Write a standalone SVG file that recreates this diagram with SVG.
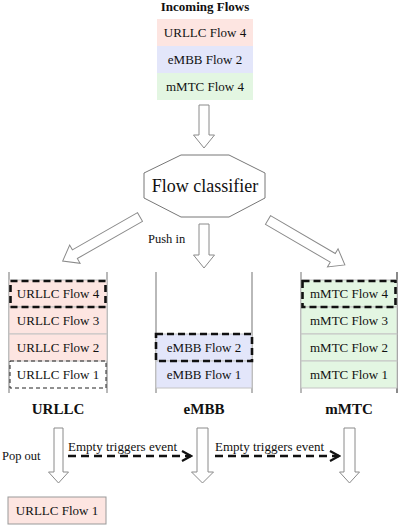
<svg xmlns="http://www.w3.org/2000/svg" width="400" height="526" viewBox="0 0 400 526" font-family="'Liberation Serif', 'Times New Roman', serif">
<defs>
<style>
text{fill:#111}
.t{font-size:13px;text-anchor:middle}
.b{font-size:15px;font-weight:bold;text-anchor:middle}
.hollow{fill:#fff;stroke:#8a8a8a;stroke-width:1}
.qline{stroke:#8a8a8a;stroke-width:1.2}
.pink{fill:#fde5e1}
.blue{fill:#e3e6fa}
.green{fill:#e3f6e2}
.cell{stroke:#c4c4c4;stroke-width:1}
.thick{fill:none;stroke:#111;stroke-width:2.6;stroke-dasharray:7 4}
.thin{fill:none;stroke:#222;stroke-width:1;stroke-dasharray:4 3}
.dash{stroke:#111;stroke-width:2.6;stroke-dasharray:8 5;fill:none}
</style>
<path id="diag" d="M0,-5 H75 V-10.5 L89,0 L75,10.5 V5 H0 Z"/>
<marker id="chev" viewBox="0 0 12 12" refX="10" refY="6" markerWidth="12" markerHeight="12" markerUnits="userSpaceOnUse" orient="auto">
<path d="M1,1 L10,6 L1,11" fill="none" stroke="#111" stroke-width="2.2"/>
</marker>
</defs>

<g id="incoming">
<text x="205" y="11" style="font-size:13px;font-weight:bold;text-anchor:middle">Incoming Flows</text>
<rect x="157" y="19" width="96" height="27" class="pink"/>
<text x="205" y="37" class="t">URLLC Flow 4</text>
<rect x="157" y="46" width="96" height="27" class="blue"/>
<text x="205" y="64" class="t">eMBB Flow 2</text>
<rect x="157" y="73" width="96" height="27" class="green"/>
<text x="205" y="91" class="t">mMTC Flow 4</text>
</g>

<g id="classifier">
<polygon points="181,155 229,155 265,173 265,198 229,217 181,217 144,198 144,173" fill="#fff" stroke="#777" stroke-width="1"/>
<text x="205" y="192" style="font-size:18px;text-anchor:middle">Flow classifier</text>
</g>

<g id="urllc">
<line x1="9" y1="272" x2="9" y2="393" class="qline"/>
<line x1="107" y1="272" x2="107" y2="393" class="qline"/>
<rect x="9" y="280" width="98" height="27" class="pink cell"/>
<rect x="9" y="307" width="98" height="27" class="pink cell"/>
<rect x="9" y="334" width="98" height="27" class="pink cell"/>
<rect x="10.5" y="281" width="95" height="26" class="thick"/>
<rect x="10" y="361" width="96" height="27" class="thin"/>
<text x="58" y="298" class="t">URLLC Flow 4</text>
<text x="58" y="325" class="t">URLLC Flow 3</text>
<text x="58" y="352" class="t">URLLC Flow 2</text>
<text x="58" y="379" class="t">URLLC Flow 1</text>
<text x="58" y="414" class="b">URLLC</text>
</g>

<g id="embb">
<line x1="156" y1="272" x2="156" y2="393" class="qline"/>
<line x1="252" y1="272" x2="252" y2="393" class="qline"/>
<rect x="156" y="334" width="96" height="27" class="blue cell"/>
<rect x="156" y="361" width="96" height="27" class="blue cell"/>
<rect x="156" y="334" width="96" height="27" class="thick"/>
<text x="204" y="352" class="t">eMBB Flow 2</text>
<text x="204" y="379" class="t">eMBB Flow 1</text>
<text x="204" y="414" class="b">eMBB</text>
</g>

<g id="mmtc">
<line x1="301" y1="272" x2="301" y2="393" class="qline"/>
<line x1="397" y1="272" x2="397" y2="393" class="qline" style="stroke-width:2"/>
<rect x="301" y="280" width="96" height="27" class="green cell"/>
<rect x="301" y="307" width="96" height="27" class="green cell"/>
<rect x="301" y="334" width="96" height="27" class="green cell"/>
<rect x="301" y="361" width="96" height="27" class="green cell"/>
<rect x="302.5" y="281" width="93" height="26" class="thick"/>
<text x="349" y="298" class="t">mMTC Flow 4</text>
<text x="349" y="325" class="t">mMTC Flow 3</text>
<text x="349" y="352" class="t">mMTC Flow 2</text>
<text x="349" y="379" class="t">mMTC Flow 1</text>
<text x="349" y="414" class="b">mMTC</text>
</g>

<g id="output">
<rect x="8" y="497" width="98" height="27" class="pink" stroke="#999" stroke-width="1"/>
<text x="57" y="515" class="t">URLLC Flow 1</text>
</g>

<g id="connectors">
<path class="hollow" d="M199,105 H209 V135 H214.5 L204,148 L193.5,135 H199 Z"/>
<path class="hollow" d="M199,224 H209 V255 H214.5 L204,268 L193.5,255 H199 Z"/>
<text x="148" y="243" style="font-size:12.5px">Push in</text>
<use href="#diag" class="hollow" transform="translate(140,217) rotate(150.3)"/>
<use href="#diag" class="hollow" transform="translate(268,220) rotate(30.3)"/>
<path class="hollow" d="M54,428 H63 V472 H68.5 L58.5,483 L48.5,472 H54 Z"/>
<path class="hollow" d="M197,428 H208 V472 H213.5 L202.5,483 L191.5,472 H197 Z"/>
<path class="hollow" d="M344,428 H355 V472 H359.5 L349.5,483 L339.5,472 H344 Z"/>
<text x="2" y="460" style="font-size:12.5px">Pop out</text>
<text x="68" y="451" style="font-size:13px">Empty triggers event</text>
<line x1="68" y1="456" x2="191" y2="456" class="dash" marker-end="url(#chev)"/>
<text x="215" y="451" style="font-size:13px">Empty triggers event</text>
<line x1="215" y1="456" x2="339" y2="456" class="dash" marker-end="url(#chev)"/>
</g>
</svg>
